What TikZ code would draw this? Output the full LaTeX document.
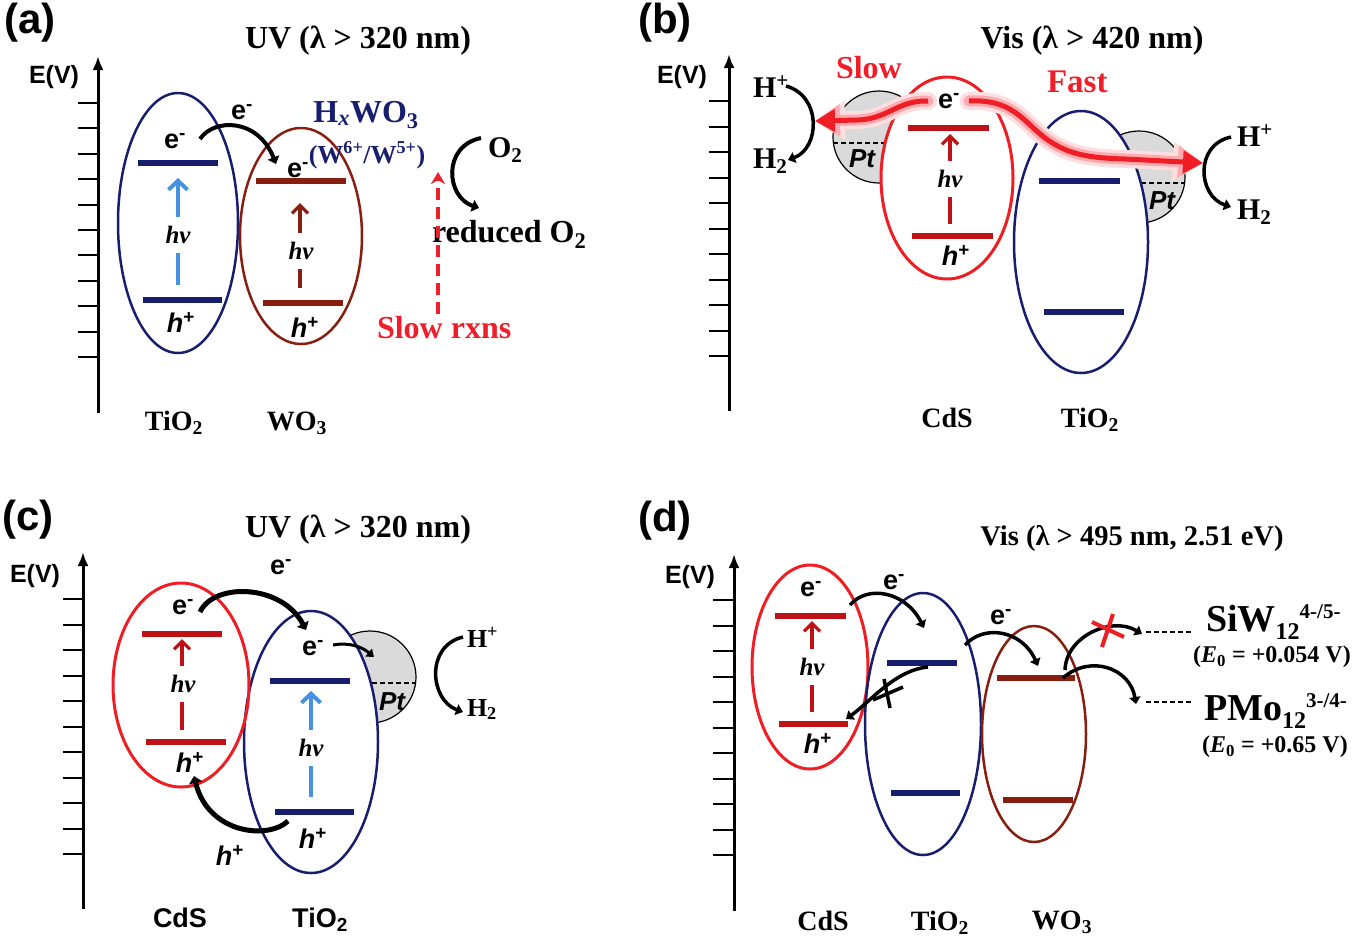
\documentclass[tikz,border=0pt]{standalone}
\usepackage{fontspec}
\setmainfont{Liberation Serif}
\setsansfont{Liberation Sans}
\usetikzlibrary{arrows.meta,shapes.geometric,calc}
\definecolor{navy}{RGB}{24,30,110}
\definecolor{brn}{RGB}{135,30,15}
\definecolor{cdsred}{RGB}{238,30,36}
\definecolor{barred}{RGB}{190,18,22}
\definecolor{ltblue}{RGB}{70,145,225}
\definecolor{txtred}{RGB}{240,30,40}
\definecolor{glowA}{RGB}{255,222,224}
\definecolor{glowB}{RGB}{255,170,176}
\definecolor{ptgray}{RGB}{218,218,218}
\begin{document}
\begin{tikzpicture}[x=1pt,y=-1pt,
 every node/.style={inner sep=0pt, outer sep=0pt},
 panel/.style={font=\sffamily\bfseries\fontsize{42}{44}\selectfont},
 ttl/.style={font=\bfseries\fontsize{32}{34}\selectfont},
 chem/.style={font=\bfseries\fontsize{30}{32}\selectfont},
 evlab/.style={font=\sffamily\bfseries\fontsize{25}{27}\selectfont},
 car/.style={font=\sffamily\bfseries\fontsize{27}{29}\selectfont},
 hvlab/.style={font=\bfseries\itshape\fontsize{25}{27}\selectfont, fill=white, inner xsep=2pt, inner ysep=9pt},
 mat/.style={font=\bfseries\fontsize{28}{30}\selectfont},
 matsf/.style={font=\sffamily\bfseries\fontsize{27}{29}\selectfont},
 ell/.style={ellipse, line width=2.5pt},
 ptc/.style={circle, draw=black, line width=1.2pt, fill=ptgray, minimum size=92pt},
 ptlab/.style={font=\sffamily\bfseries\itshape\fontsize{26}{28}\selectfont},
 ptdash/.style={dashed, line width=1.5pt, dash pattern=on 5pt off 3pt},
 bar/.style={line width=6pt},
 axisarr/.style={line width=3pt, -{Latex[length=14pt,width=11pt]}},
 tickln/.style={line width=2pt},
 hvarr/.style={line width=3.2pt, -{Straight Barb[length=8pt,width=16pt]}},
 hvarrb/.style={line width=4pt, -{Straight Barb[length=9pt,width=19pt]}},
 big/.style={line width=4pt, -{Triangle[length=7pt,width=12pt]}},
 mid/.style={line width=3.5pt, -{Triangle[length=7pt,width=11pt]}},
 glowa/.style={line width=18pt, glowA, line cap=round, -{Triangle[length=30pt,width=38pt]}},
 glowb/.style={line width=11pt, glowB, line cap=round, -{Triangle[length=25pt,width=31pt]}},
 glowc/.style={line width=5pt, cdsred, -{Triangle[length=20pt,width=22pt]}},
]
\useasboundingbox (0,0) rectangle (1355,938);

%================ (a) ================
\node[panel] (pa) at (30,23) {(a)};
\node[ttl, anchor=base] (ta) at (358,48) {UV (λ > 320 nm)};
\node[evlab] (eva) at (54,77) {E(V)};
\coordinate (aaxb) at (98,413); \coordinate (aaxt) at (98,56);
\draw[axisarr] (aaxb) -- (aaxt);
\foreach \i in {0,...,10} \draw[tickln] (78,103+25.4*\i) -- (98,103+25.4*\i);

\node[ell, draw=navy, minimum width=120pt, minimum height=260pt] (aT) at (178,223) {};
\node[ell, draw=brn, minimum width=122pt, minimum height=216pt] (aW) at (301,236) {};
\draw[bar,navy] (138,163) -- (218,163);
\draw[bar,navy] (143,300) -- (222,300);
\draw[bar,brn] (256,181) -- (346,181);
\draw[bar,brn] (263,303) -- (343,303);

\coordinate (ahvTb) at (178,285); \coordinate (ahvTt) at (178,178);
\draw[hvarrb,ltblue] (ahvTb) -- (ahvTt);
\node[hvlab] (ahvT) at (178,235) {hν};
\coordinate (ahvWb) at (300,288); \coordinate (ahvWt) at (300,203);
\draw[hvarr,brn] (ahvWb) -- (ahvWt);
\node[hvlab] (ahvW) at (301,251) {hν};

\node[car] (aTe) at (175,141) {e\textsuperscript{-}};
\node[car] (aTh) at (181,322) {\textit{h}\textsuperscript{+}};
\node[car] (aWe) at (298,170) {e\textsuperscript{-}};
\node[car] (aWh) at (305,327) {\textit{h}\textsuperscript{+}};
\node[car] (ael) at (242,112) {e\textsuperscript{-}};
\coordinate (a1s) at (200,139); \coordinate (a1e) at (276,164);
\draw[big] (a1s) .. controls (214,118) and (258,118) .. (a1e);

\node[font=\bfseries\fontsize{32}{34}\selectfont, text=navy, anchor=base] (ahx) at (366,122) {H\textsubscript{\textit{x}}WO\textsubscript{3}};
\node[font=\bfseries\fontsize{26}{28}\selectfont, text=navy, anchor=base] (aw65) at (367,163) {(W\textsuperscript{6+}/W\textsuperscript{5+})};

\node[chem, anchor=base west] (ao2) at (488,157) {O\textsubscript{2}};
\node[ttl, anchor=base west] (ared) at (432,242) {reduced O\textsubscript{2}};
\coordinate (ao2s) at (481,138); \coordinate (ao2e) at (479,208);
\draw[big] (ao2s) .. controls (442,146) and (446,197) .. (ao2e);
\coordinate (aslb) at (438,314); \coordinate (aslt) at (438,172);
\draw[line width=3.2pt, txtred, dash pattern=on 12pt off 7pt, -{Stealth[length=12pt,width=14pt]}] (aslb) -- (aslt);
\node[ttl, text=txtred, anchor=base west] (aslow) at (377,338) {Slow rxns};

\node[mat, anchor=base] (aTl) at (174,430) {TiO\textsubscript{2}};
\node[mat, anchor=base] (aWl) at (297,430) {WO\textsubscript{3}};

%================ (b) ================
\node[panel] (pb) at (665,23) {(b)};
\node[ttl, anchor=base] (tb) at (1092,48) {Vis (λ > 420 nm)};
\node[evlab] (evb) at (682,77) {E(V)};
\coordinate (baxb) at (729,411); \coordinate (baxt) at (729,54);
\draw[axisarr] (baxb) -- (baxt);
\foreach \i in {0,...,10} \draw[tickln] (709,101+25.5*\i) -- (729,101+25.5*\i);

\node[ptc] (bpt1) at (879,137) {};
\draw[ptdash] (833,143) -- (925,143);
\node[ptc] (bpt2) at (1139,177) {};
\draw[ptdash] (1093,183) -- (1185,183);
\node[ell, draw=navy, fill=white, minimum width=134pt, minimum height=262pt] (bT) at (1081,242) {};
\node[ell, draw=cdsred, line width=3pt, fill=white, minimum width=132pt, minimum height=202pt] (bC) at (947,178) {};
\node[ptlab] (bpl1) at (862,159) {Pt};
\node[ptlab] (bpl2) at (1162,201) {Pt};

\draw[bar,barred] (908,128) -- (989,128);
\draw[bar,barred] (912,236) -- (993,236);
\draw[bar,navy] (1039,181) -- (1120,181);
\draw[bar,navy] (1044,312) -- (1124,312);
\coordinate (bhvb) at (950,224); \coordinate (bhvt) at (950,134);
\draw[hvarr,barred] (bhvb) -- (bhvt);
\node[hvlab] (bhv) at (950,179) {hν};
\node[car] (bCh) at (956,255) {\textit{h}\textsuperscript{+}};

% glowing arrows
\coordinate (bsls) at (928,101); \coordinate (bsle) at (815,121);
\coordinate (bfss) at (969,101); \coordinate (bfse) at (1203,163);
\foreach \s in {glowa,glowb,glowc}{
  \draw[\s] (bsls) .. controls (898,100) and (888,119) .. (858,120) -- (bsle);
  \draw[\s] (bfss) .. controls (1012,99) and (1022,120) .. (1045,138) .. controls (1068,155) and (1090,158) .. (1125,159) -- (bfse);
}
\node[car] (bCe) at (949,101) {e\textsuperscript{-}};

\node[ttl, text=txtred, anchor=base west] (bslow) at (836,78) {Slow};
\node[font=\bfseries\fontsize{33}{35}\selectfont, text=txtred, anchor=base west] (bfast) at (1047,92) {Fast};

\node[chem, anchor=base west] (bh1) at (753,97) {H\textsuperscript{+}};
\node[chem, anchor=base west] (bh2) at (753,168) {H\textsubscript{2}};
\coordinate (bh1s) at (786,86); \coordinate (bh1e) at (788,160);
\draw[mid] (bh1s) .. controls (822,96) and (820,148) .. (bh1e);
\node[chem, anchor=base west] (bh3) at (1237,146) {H\textsuperscript{+}};
\node[chem, anchor=base west] (bh4) at (1237,219) {H\textsubscript{2}};
\coordinate (bh3s) at (1231,137); \coordinate (bh3e) at (1231,207);
\draw[mid] (bh3s) .. controls (1194,145) and (1198,196) .. (bh3e);

\node[mat, anchor=base] (bCl) at (947,427) {CdS};
\node[mat, anchor=base] (bTl) at (1090,427) {TiO\textsubscript{2}};

%================ (c) ================
\node[panel] (pc) at (28,520) {(c)};
\node[ttl, anchor=base] (tc) at (358,537) {UV (λ > 320 nm)};
\node[evlab] (evc) at (35,576) {E(V)};
\coordinate (caxb) at (83,909); \coordinate (caxt) at (83,552);
\draw[axisarr] (caxb) -- (caxt);
\foreach \i in {0,...,10} \draw[tickln] (63,599+25.5*\i) -- (83,599+25.5*\i);

\node[ptc] (cpt) at (370,677) {};
\draw[ptdash] (324,683) -- (416,683);
\node[ell, draw=navy, fill=white, minimum width=134pt, minimum height=262pt] (cT) at (311,742) {};
\node[ell, draw=cdsred, line width=3pt, minimum width=136pt, minimum height=204pt] (cC) at (181,685) {};
\node[ptlab] (cpl) at (392,702) {Pt};

\draw[bar,barred] (142,634) -- (222,634);
\draw[bar,barred] (146,742) -- (226,742);
\draw[bar,navy] (270,681) -- (350,681);
\draw[bar,navy] (275,812) -- (354,812);
\coordinate (chvCb) at (182,730); \coordinate (chvCt) at (182,639);
\draw[hvarr,barred] (chvCb) -- (chvCt);
\node[hvlab] (chvC) at (183,684) {hν};
\coordinate (chvTb) at (311,797); \coordinate (chvTt) at (311,691);
\draw[hvarrb,ltblue] (chvTb) -- (chvTt);
\node[hvlab] (chvT) at (311,748) {hν};

\node[car] (cCe) at (183,607) {e\textsuperscript{-}};
\node[car] (cCh) at (190,762) {\textit{h}\textsuperscript{+}};
\node[car] (cTe) at (313,648) {e\textsuperscript{-}};
\node[car] (cTh) at (313,838) {\textit{h}\textsuperscript{+}};
\node[car] (cel) at (281,567) {e\textsuperscript{-}};
\node[car] (chl) at (230,855) {\textit{h}\textsuperscript{+}};

\coordinate (c1s) at (200,612); \coordinate (c1e) at (306,630);
\draw[line width=5pt, -{Triangle[length=7pt,width=13pt]}] (c1s) .. controls (214,582) and (282,584) .. (c1e);
\coordinate (c2s) at (288,821); \coordinate (c2e) at (194,776);
\draw[line width=5pt, -{Triangle[length=7pt,width=13pt]}] (c2s) .. controls (268,840) and (208,834) .. (c2e);
\coordinate (c3s) at (333,645); \coordinate (c3e) at (374,657);
\draw[line width=3pt, -{Triangle[length=7pt,width=10pt]}] (c3s) .. controls (350,642) and (362,647) .. (c3e);

\node[font=\bfseries\fontsize{26}{28}\selectfont, anchor=base west] (ch1) at (467,647) {H\textsuperscript{+}};
\node[font=\bfseries\fontsize{26}{28}\selectfont, anchor=base west] (ch2) at (467,716) {H\textsubscript{2}};
\coordinate (ch1s) at (463,637); \coordinate (ch1e) at (463,712);
\draw[mid] (ch1s) .. controls (425,646) and (430,700) .. (ch1e);

\node[matsf, anchor=base] (cCl) at (180,927) {CdS};
\node[matsf, anchor=base] (cTl) at (320,927) {TiO\textsubscript{2}};

%================ (d) ================
\node[panel] (pd) at (665,521) {(d)};
\node[font=\bfseries\fontsize{28.5}{31}\selectfont, anchor=base] (td) at (1132,545) {Vis (λ > 495 nm, 2.51 eV)};
\node[evlab] (evd) at (690,577) {E(V)};
\coordinate (daxb) at (734,911); \coordinate (daxt) at (734,554);
\draw[axisarr] (daxb) -- (daxt);
\foreach \i in {0,...,10} \draw[tickln] (713,600+25.5*\i) -- (734,600+25.5*\i);

\node[ell, draw=cdsred, line width=3pt, minimum width=116pt, minimum height=204pt] (dC) at (810,667) {};
\node[ell, draw=navy, minimum width=116pt, minimum height=262pt] (dT) at (923,724) {};
\node[ell, draw=brn, minimum width=104pt, minimum height=216pt] (dW) at (1034,734) {};

\draw[bar,barred] (775,616) -- (846,616);
\draw[bar,barred] (779,724) -- (848,724);
\draw[bar,navy] (887,663) -- (957,663);
\draw[bar,navy] (891,793) -- (960,793);
\draw[bar,brn] (997,678) -- (1075,678);
\draw[bar,brn] (1003,800) -- (1073,800);
\coordinate (dhvb) at (812,712); \coordinate (dhvt) at (812,621);
\draw[hvarr,barred] (dhvb) -- (dhvt);
\node[hvlab] (dhv) at (812,667) {hν};

\node[car] (dCe) at (811,589) {e\textsuperscript{-}};
\node[car] (dCh) at (818,743) {\textit{h}\textsuperscript{+}};
\node[car] (de1) at (894,582) {e\textsuperscript{-}};
\node[car] (de2) at (1001,617) {e\textsuperscript{-}};

\coordinate (d1s) at (850,605); \coordinate (d1e) at (924,628);
\draw[mid] (d1s) .. controls (868,584) and (906,592) .. (d1e);
\coordinate (d2s) at (965,645); \coordinate (d2e) at (1038,666);
\draw[mid] (d2s) .. controls (984,624) and (1022,630) .. (d2e);
\coordinate (dxs) at (928,667); \coordinate (dxe) at (846,719);
\draw[line width=3.5pt, -{Triangle[length=7pt,width=11pt]}] (dxs) .. controls (895,670) and (870,702) .. (dxe);
\coordinate (dxc) at (888,693);
\draw[line width=3.5pt] ($(dxc)+(-15,7)$) -- ($(dxc)+(15,-6)$);
\draw[line width=3.5pt] ($(dxc)+(-4,-14)$) -- ($(dxc)+(2,15)$);

\coordinate (d3s) at (1065,670); \coordinate (d3e) at (1142,634);
\draw[mid] (d3s) .. controls (1066,636) and (1112,616) .. (d3e);
\coordinate (drx) at (1108,630);
\draw[line width=4pt, cdsred] ($(drx)+(-16,-8)$) -- ($(drx)+(16,7)$);
\draw[line width=4pt, cdsred] ($(drx)+(5,-16)$) -- ($(drx)+(-6,17)$);
\coordinate (d4s) at (1063,678); \coordinate (d4e) at (1136,704);
\draw[mid] (d4s) .. controls (1090,654) and (1130,668) .. (d4e);

\coordinate (dl1a) at (1146,632); \coordinate (dl1b) at (1192,632);
\draw[ptdash] (dl1a) -- (dl1b);
\coordinate (dl2a) at (1146,702); \coordinate (dl2b) at (1192,702);
\draw[ptdash] (dl2a) -- (dl2b);

\node[font=\bfseries\fontsize{38}{40}\selectfont, anchor=base west] (dsiw) at (1206,631) {SiW\raisebox{-8pt}{\fontsize{24}{24}\selectfont 12}\raisebox{13pt}{\fontsize{21}{21}\selectfont 4-/5-}};
\node[font=\bfseries\fontsize{24}{26}\selectfont] (dsie) at (1272,657) {(\textit{E}\textsubscript{0} = +0.054 V)};
\node[font=\bfseries\fontsize{38}{40}\selectfont, anchor=base west] (dpmo) at (1204,720) {PMo\raisebox{-8pt}{\fontsize{24}{24}\selectfont 12}\raisebox{13pt}{\fontsize{21}{21}\selectfont 3-/4-}};
\node[font=\bfseries\fontsize{24}{26}\selectfont] (dpme) at (1275,747) {(\textit{E}\textsubscript{0} = +0.65 V)};

\node[mat, anchor=base] (dCl) at (823,930) {CdS};
\node[mat, anchor=base] (dTl) at (940,930) {TiO\textsubscript{2}};
\node[mat, anchor=base] (dWl) at (1062,929) {WO\textsubscript{3}};
\end{tikzpicture}
\end{document}
